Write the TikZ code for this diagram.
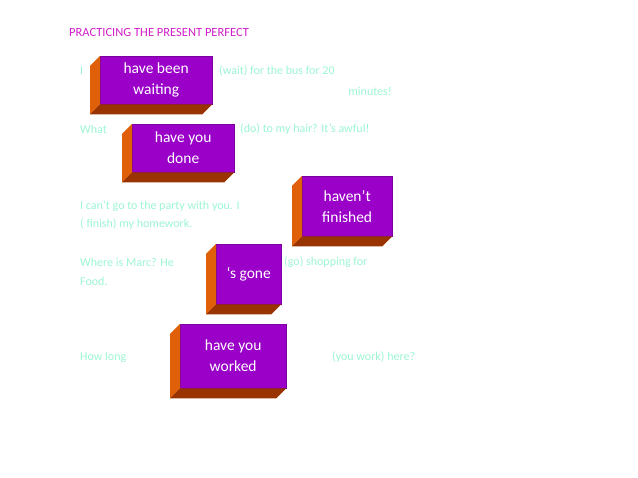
\documentclass[tikz,border=0pt]{standalone}
\usepackage{fontspec}
\setmainfont{Carlito}
\definecolor{face}{HTML}{9A00C8}
\definecolor{side}{HTML}{E0600A}
\definecolor{bot}{HTML}{993300}
\definecolor{aq}{HTML}{9CF5D2}
\definecolor{ttl}{HTML}{D020C8}
\begin{document}
\begin{tikzpicture}[x=1pt,y=-1pt,
  txt/.style={anchor=west,inner sep=0pt,text=aq,font=\fontsize{12}{14}\selectfont},
  facebox/.style={fill=face,draw=face!80!black,line width=0.3pt,inner sep=0pt,text=white,align=center,font=\fontsize{15.5}{21}\selectfont}]
\useasboundingbox (0,0) rectangle (638,478);
\node[anchor=west,inner sep=0pt,text=ttl,font=\fontsize{12.5}{14}\selectfont] (title) at (69,32) {PRACTICING THE PRESENT PERFECT};
% boxes: face rectangle + side + bottom
\foreach \n/\x/\y/\w/\h/\t in {b1/100/56/112/48/{have been\\waiting},b2/132/124/102/48/{have you\\done},b3/302/176/90/60/{haven’t\\finished},b4/216/244/65/60/{‘s gone},b5/180/324/106/64/{have you\\worked}}{
  \node[facebox,minimum width=\w pt,minimum height=\h pt,anchor=north west] (\n) at (\x,\y) {\t};
  \fill[side] (\n.north west) -- ++(-10,10) -- ([xshift=-10pt,yshift=-10pt]\n.south west) -- (\n.south west) -- cycle;
  \fill[bot] (\n.south west) -- ++(-10,10) -- ([xshift=-10pt,yshift=-10pt]\n.south east) -- (\n.south east) -- cycle;
}
\node[txt] (t1a) at (80,71) {I};
\node[txt] (t1b) at (219,71) {(wait) for the bus for 20};
\node[txt,anchor=east] (t1c) at (392,91) {minutes!};
\node[txt] (t2a) at (80,129) {What};
\node[txt] (t2b) at (240,129) {(do) to my hair? It’s awful!};
\node[txt] (t3a) at (80,206) {I can’t go to the party with you. I};
\node[txt] (t3b) at (80,224) {( finish) my homework.};
\node[txt] (t4a) at (80,262) {Where is Marc? He};
\node[txt] (t4b) at (284,262) {(go) shopping for};
\node[txt] (t4c) at (80,281) {Food.};
\node[txt] (t5a) at (80,357) {How long};
\node[txt] (t5b) at (332,357) {(you work) here?};
\end{tikzpicture}
\end{document}
